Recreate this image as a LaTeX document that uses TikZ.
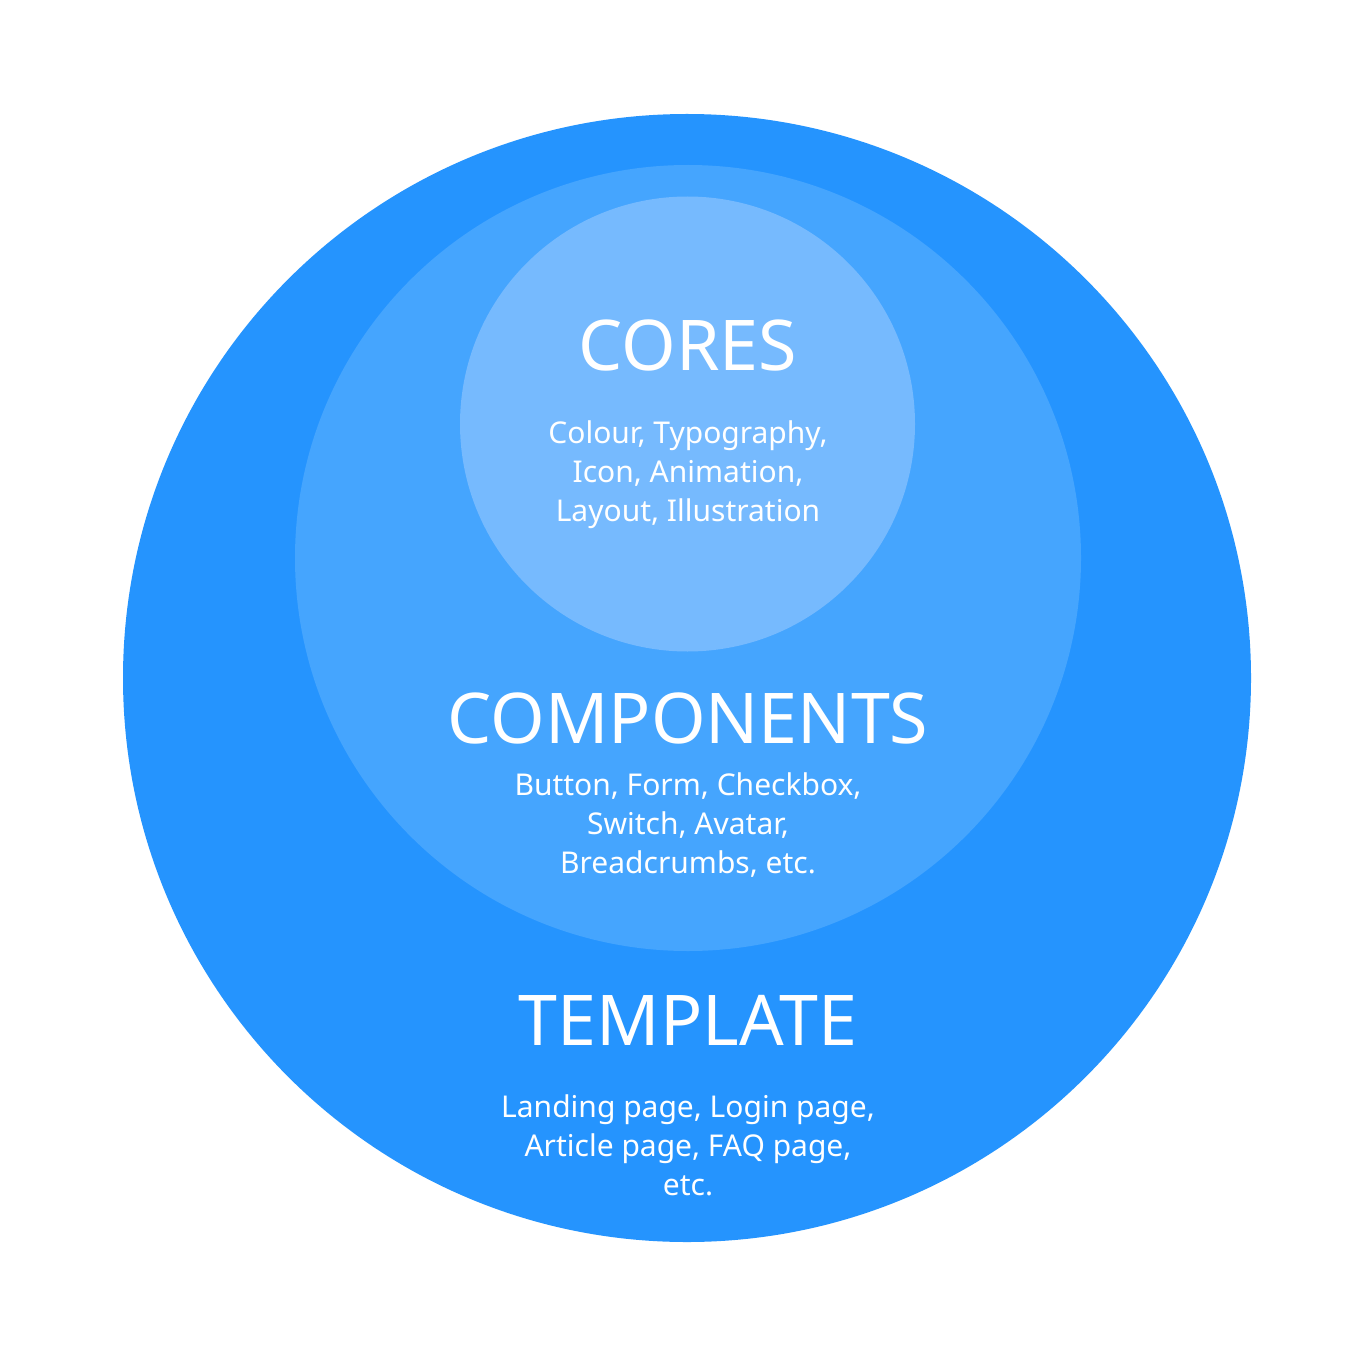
\documentclass[tikz,border=0pt]{standalone}
\usepackage{fontspec}
\setmainfont{Noto Sans}
\definecolor{outerc}{HTML}{2594FE}
\definecolor{midc}{HTML}{45A5FE}
\definecolor{innerc}{HTML}{76BAFE}
\begin{document}
\begin{tikzpicture}[x=0.5pt,y=-0.5pt,
  ttl/.style={text=white,font=\fontsize{35}{40}\selectfont\bfseries,inner sep=0},
  body/.style={text=white,font=\fontsize{15}{19.5}\selectfont\bfseries,align=center,inner sep=0}]
\useasboundingbox[fill=white] (0,0) rectangle (1358,1358);
\fill[outerc] (687,678) circle[radius=564];
\fill[midc] (688,558) circle[radius=393];
\fill[innerc] (687.5,424) circle[radius=227.5];
\node[ttl] (t1) at (688,345) {CORES};
\node[body] (b1) at (688,475) {Colour, Typography,\\Icon, Animation,\\Layout, Illustration};
\node[ttl] (t2) at (688,718) {COMPONENTS};
\node[body] (b2) at (688,825) {Button, Form, Checkbox,\\Switch, Avatar,\\Breadcrumbs, etc.};
\node[ttl] (t3) at (688,1020) {TEMPLATE};
\node[body] (b3) at (688,1145) {Landing page, Login page,\\Article page, FAQ page,\\etc.};
\end{tikzpicture}
\end{document}
